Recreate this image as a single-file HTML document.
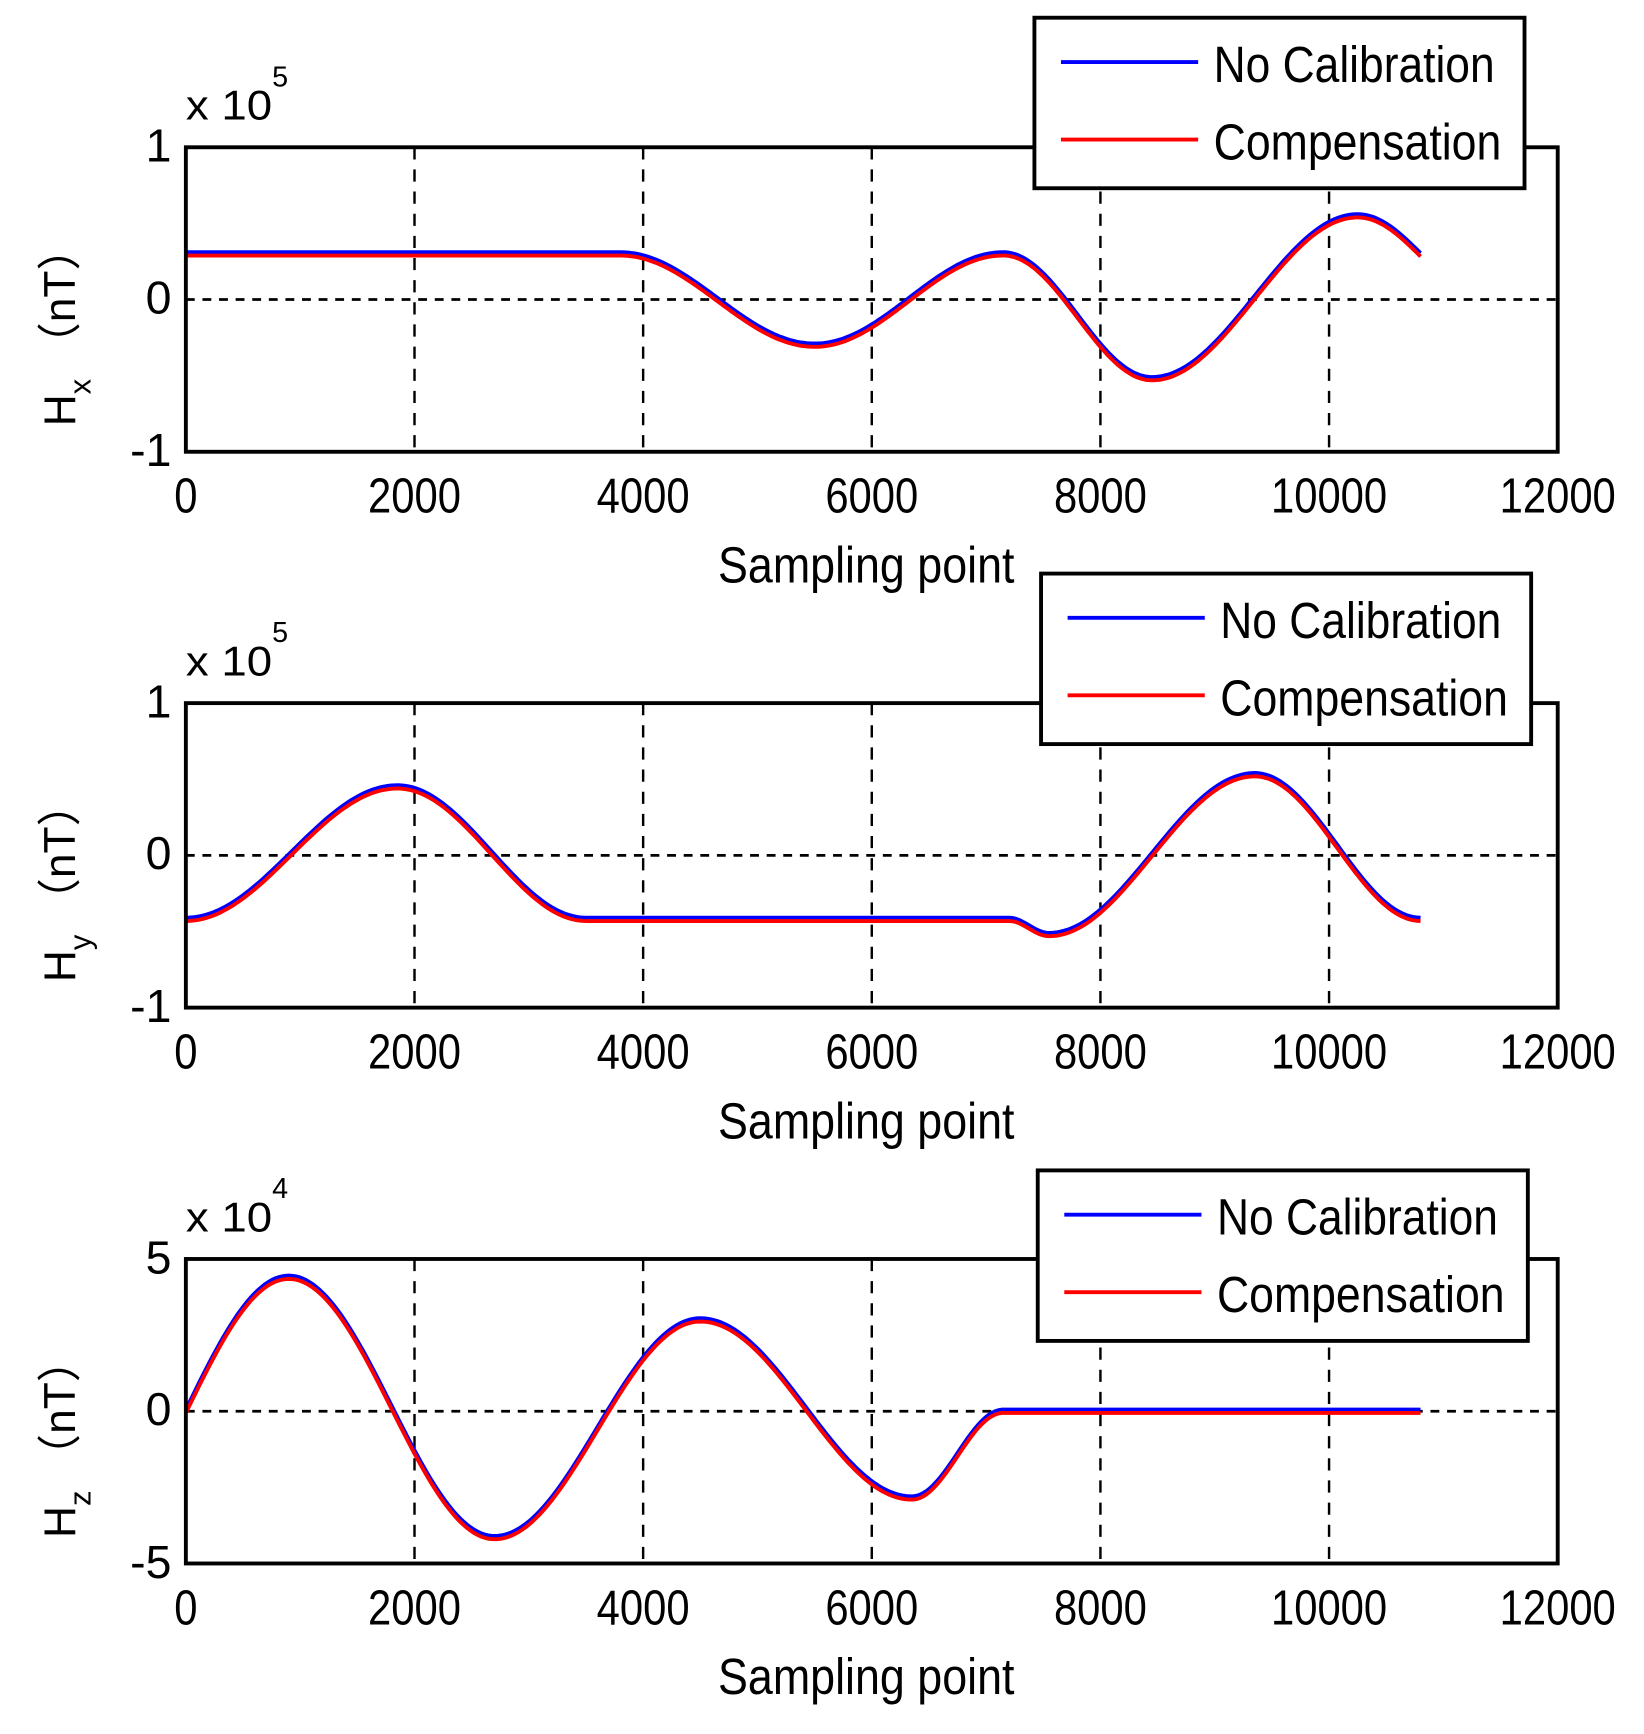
<!DOCTYPE html>
<html><head><meta charset="utf-8"><style>
html,body{margin:0;padding:0;background:#fff;}
svg{display:block;}
text{font-family:"Liberation Sans",Arial,sans-serif;fill:#000;}
</style></head><body>
<svg id="s" width="1644" height="1734" viewBox="0 0 1486 1566" preserveAspectRatio="none" xmlns="http://www.w3.org/2000/svg">
<rect width="1486" height="1566" fill="#fff"/>
<g id="p1"></g><g id="p2"></g><g id="p3"></g>

<text x="168" y="108" font-size="38" textLength="78" lengthAdjust="spacingAndGlyphs">x 10</text>
<text x="246" y="78" font-size="26">5</text>
<text x="155" y="146" font-size="42" text-anchor="end">1</text>
<text x="155" y="283" font-size="42" text-anchor="end">0</text>
<text x="155" y="421" font-size="42" text-anchor="end">-1</text>
<text transform="translate(68,385) rotate(-90)" font-size="40">H<tspan font-size="28" dy="14">x</tspan><tspan dy="-14"> （nT）</tspan></text>

<text x="168" y="610" font-size="38" textLength="78" lengthAdjust="spacingAndGlyphs">x 10</text>
<text x="246" y="580" font-size="26">5</text>
<text x="155" y="648" font-size="42" text-anchor="end">1</text>
<text x="155" y="785" font-size="42" text-anchor="end">0</text>
<text x="155" y="923" font-size="42" text-anchor="end">-1</text>
<text transform="translate(68,887) rotate(-90)" font-size="40">H<tspan font-size="28" dy="14">y</tspan><tspan dy="-14"> （nT）</tspan></text>

<text x="168" y="1112" font-size="38" textLength="78" lengthAdjust="spacingAndGlyphs">x 10</text>
<text x="246" y="1082" font-size="26">4</text>
<text x="155" y="1150" font-size="42" text-anchor="end">5</text>
<text x="155" y="1287" font-size="42" text-anchor="end">0</text>
<text x="155" y="1425" font-size="42" text-anchor="end">-5</text>
<text transform="translate(68,1389) rotate(-90)" font-size="40">H<tspan font-size="28" dy="14">z</tspan><tspan dy="-14"> （nT）</tspan></text>
</svg>
<script>
var NS="http://www.w3.org/2000/svg";
function el(g,t,a,txt){var e=document.createElementNS(NS,t);for(var k in a)e.setAttribute(k,a[k]);if(txt!==undefined)e.textContent=txt;g.appendChild(e);return e;}
var L=168,R=1408,W=R-L;
function X(v){return L+v*W/12000;}
function interp(kp,v){
  if(v<=kp[0][0])return kp[0][1];
  for(var i=1;i<kp.length;i++){if(v<=kp[i][0]){var a=kp[i-1],b=kp[i];var t=(v-a[0])/(b[0]-a[0]);var s=(1-Math.cos(Math.PI*t))/2;return a[1]+(b[1]-a[1])*s;}}
  return kp[kp.length-1][1];
}
function panel(id,top,kp,off,legY){
  var g=document.getElementById(id);var bot=top+275;var zero=top+137.5;var u=137.5;
  for(var v=2000;v<=10000;v+=2000)el(g,"line",{x1:X(v),y1:top,x2:X(v),y2:bot,stroke:"#000","stroke-width":2.2,"stroke-dasharray":"11,9"});
  el(g,"line",{x1:L,y1:zero,x2:R,y2:zero,stroke:"#000","stroke-width":2.5,"stroke-dasharray":"8,7"});
  var cols=[["#0000ff",-off],["#ff0000",off]];
  cols.forEach(function(c){
    var d="";for(var v=0;v<=10800;v+=30){var y=zero-interp(kp,v)*u+c[1];d+=(v?"L":"M")+X(v).toFixed(1)+","+y.toFixed(1);}
    el(g,"path",{d:d,fill:"none",stroke:c[0],"stroke-width":3.5});
  });
  el(g,"rect",{x:L,y:top,width:W,height:275,fill:"none",stroke:"#000","stroke-width":3.5});
  for(var v=0;v<=12000;v+=2000){var s=String(v);el(g,"text",{x:X(v),y:bot+55,"font-size":44,"text-anchor":"middle",textLength:s.length*21,lengthAdjust:"spacingAndGlyphs"},s);}
  el(g,"text",{x:783,y:bot+118,"font-size":46,"text-anchor":"middle",textLength:268,lengthAdjust:"spacingAndGlyphs"},"Sampling point");
  var lx=legY[0],ly=legY[1];
  el(g,"rect",{x:lx,y:ly,width:443,height:154,fill:"#fff",stroke:"#000","stroke-width":3.5});
  el(g,"line",{x1:lx+24,y1:ly+40,x2:lx+148,y2:ly+40,stroke:"#0000ff","stroke-width":3.5});
  el(g,"line",{x1:lx+24,y1:ly+110,x2:lx+148,y2:ly+110,stroke:"#ff0000","stroke-width":3.5});
  el(g,"text",{x:lx+162,y:ly+58,"font-size":46,textLength:254,lengthAdjust:"spacingAndGlyphs"},"No Calibration");
  el(g,"text",{x:lx+162,y:ly+128,"font-size":46,textLength:260,lengthAdjust:"spacingAndGlyphs"},"Compensation");
}
panel("p1",133,[[0,0.3],[3800,0.3],[5500,-0.3],[7150,0.3],[8450,-0.52],[10250,0.55],[11400,-0.0]],1.5,[935,16]);
panel("p2",635,[[0,-0.42],[1850,0.45],[3500,-0.42],[7200,-0.42],[7550,-0.52],[9350,0.53],[10800,-0.42]],1.5,[941,518]);
panel("p3",1137,[[-900,-0.88],[900,0.88],[2700,-0.83],[4500,0.6],[6350,-0.57],[7150,0],[10800,0]],1.5,[938,1057]);
</script>
</body></html>
